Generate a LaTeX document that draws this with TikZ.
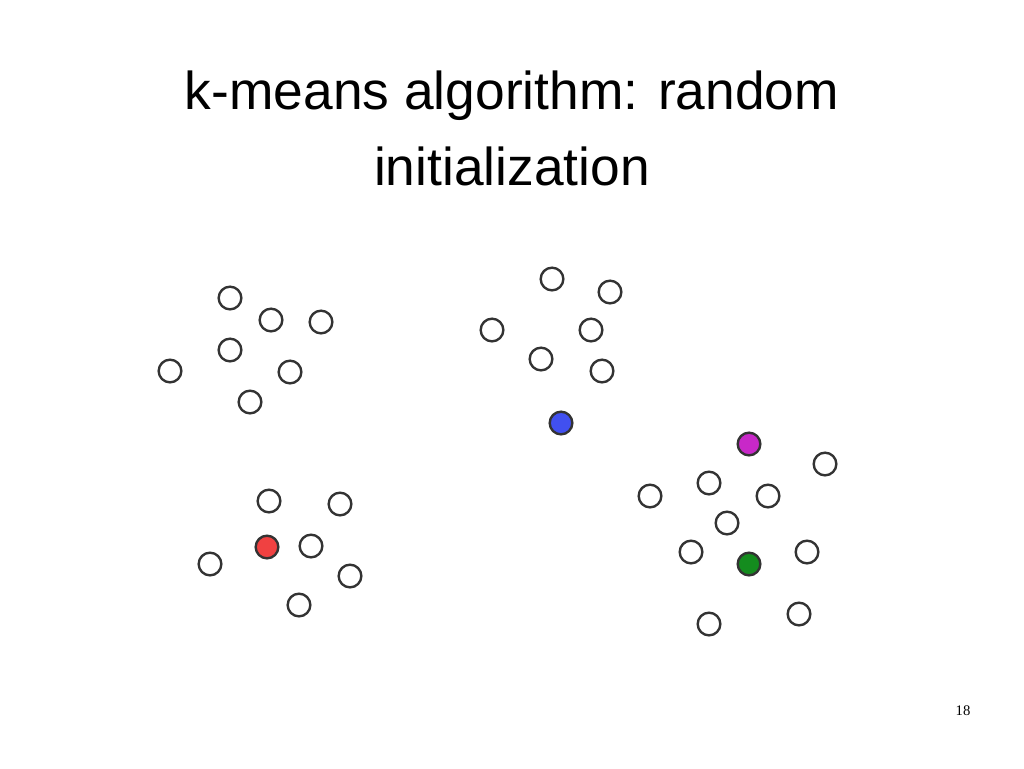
\documentclass[tikz,border=0pt]{standalone}
\usepackage{fontspec}
\setmainfont{Liberation Sans}
\newfontfamily\numfont{Liberation Serif}
\definecolor{centerred}{RGB}{240,65,65}
\definecolor{centerblue}{RGB}{65,80,240}
\definecolor{centermagenta}{RGB}{200,40,200}
\definecolor{centergreen}{RGB}{20,140,30}
\begin{document}
\begin{tikzpicture}
        [x=0.75pt, y=-0.75pt,
         pointsty/.style={circle,
                          inner sep=0pt,
                          minimum size=17pt,
                          line width=1.8pt,
                          draw=black!80,
                          fill=white},
         centersty/.style={pointsty, fill=#1}]

        \useasboundingbox (0,0) rectangle (1024,768);

        \node (title) at (512,128) [align=center, font=\fontsize{40}{57}\selectfont]
                {k-means algorithm: random\\initialization};

        % data points
        \foreach \px/\py [count=\i] in {230/298, 271/320, 321/322, 230/350, 170/371, 290/372, 250/402,
                                        552/279, 610/292, 492/330, 591/330, 541/359, 602/371,
                                        269/501, 340/504, 311/546, 210/564, 350/576, 299/605,
                                        825/464, 650/496, 709/483, 768/496, 727/523, 691/552,
                                        807/552, 709/624, 799/614}
                \node[pointsty] (point \i) at (\px,\py) {};

        % random initial centres
        \node[centersty=centerred] (center red) at (267,547) {};
        \node[centersty=centerblue] (center blue) at (561,423) {};
        \node[centersty=centermagenta] (center magenta) at (749,444) {};
        \node[centersty=centergreen] (center green) at (749,564) {};

        \node (page) at (963,711) [font=\numfont\fontsize{11}{13}\selectfont] {18};
\end{tikzpicture}
\end{document}
